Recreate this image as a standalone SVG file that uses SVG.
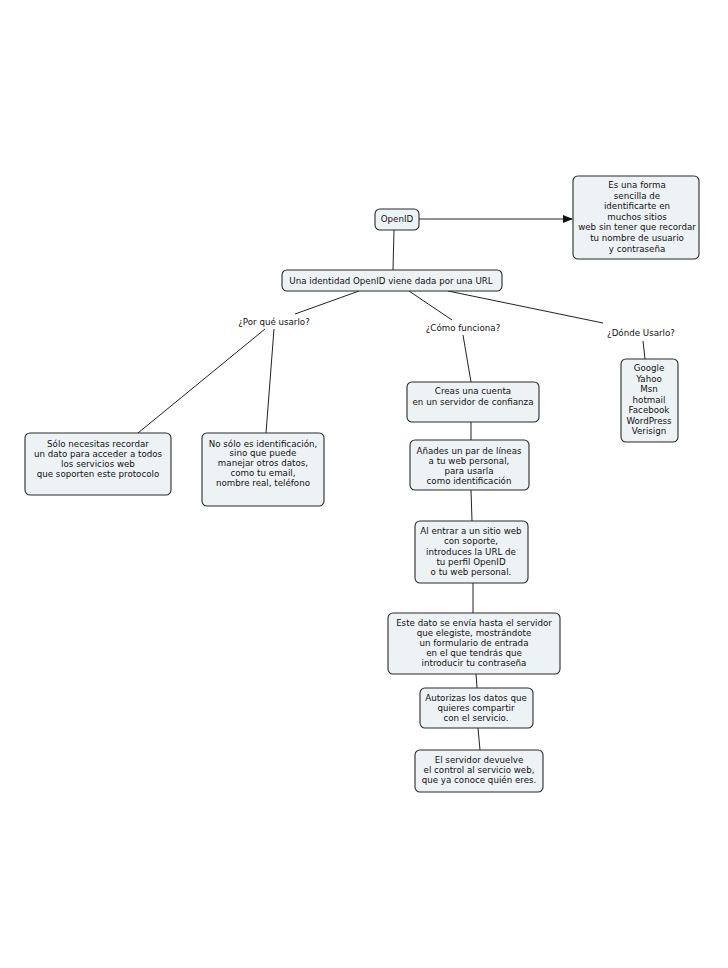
<svg xmlns="http://www.w3.org/2000/svg" width="728" height="968" viewBox="0 0 728 968">
<defs>
<style>
.box{fill:#edf3f5;stroke:#2a2a2a;stroke-width:1.1}
text{font-family:"DejaVu Sans","Verdana",sans-serif;font-size:8.7px;fill:#111;text-anchor:middle}
.c line{stroke:#222;stroke-width:1}
</style>
<marker id="arr" markerWidth="10" markerHeight="8" refX="9" refY="4" orient="auto" markerUnits="userSpaceOnUse">
<path d="M0,0 L10,4 L0,8 Z" fill="#111"/>
</marker>
</defs>
<rect width="728" height="968" fill="#fff"/>
<g class="c" id="connectors">
<line x1="419" y1="219" x2="572" y2="219" marker-end="url(#arr)"/>
<line x1="394" y1="230" x2="393" y2="270"/>
<line x1="359" y1="291" x2="295" y2="314"/>
<line x1="409" y1="291" x2="452" y2="320"/>
<line x1="448" y1="291" x2="603" y2="323"/>
<line x1="265" y1="329" x2="138" y2="433"/>
<line x1="274" y1="329" x2="266" y2="433"/>
<line x1="463" y1="335" x2="471" y2="382"/>
<line x1="643" y1="341" x2="645" y2="359"/>
<line x1="471" y1="422" x2="471" y2="440"/>
<line x1="471" y1="490" x2="472" y2="521"/>
<line x1="473" y1="583" x2="473" y2="613"/>
<line x1="476" y1="674" x2="477" y2="688"/>
<line x1="478" y1="728" x2="480" y2="750"/>
</g>
<g id="openid"><rect class="box" x="375" y="209" width="44" height="21" rx="5"/><text x="397" y="222">OpenID</text></g>
<g id="desc"><rect class="box" x="573" y="176" width="126" height="83" rx="5"/>
<text x="637" y="188">Es una forma</text>
<text x="637" y="199">sencilla de</text>
<text x="637" y="209">identificarte en</text>
<text x="637" y="220">muchos sitios</text>
<text x="637" y="230">web sin tener que recordar</text>
<text x="637" y="241">tu nombre de usuario</text>
<text x="637" y="252">y contraseña</text></g>
<g id="url"><rect class="box" x="282" y="270" width="220" height="21" rx="5"/><text x="391" y="284">Una identidad OpenID viene dada por una URL</text></g>
<g id="porque"><text x="274" y="325">¿Por qué usarlo?</text></g>
<g id="como"><text x="463" y="331">¿Cómo funciona?</text></g>
<g id="donde"><text x="641" y="336">¿Dónde Usarlo?</text></g>
<g id="solo"><rect class="box" x="25" y="433" width="146" height="62" rx="5"/>
<text x="98" y="447">Sólo necesitas recordar</text>
<text x="98" y="457">un dato para acceder a todos</text>
<text x="98" y="467">los servicios web</text>
<text x="98" y="477">que soporten este protocolo</text></g>
<g id="nosolo"><rect class="box" x="202" y="433" width="122" height="73" rx="5"/>
<text x="263" y="447">No sólo es identificación,</text>
<text x="263" y="456">sino que puede</text>
<text x="263" y="466">manejar otros datos,</text>
<text x="263" y="476">como tu email,</text>
<text x="263" y="486">nombre real, teléfono</text></g>
<g id="creas"><rect class="box" x="407" y="382" width="132" height="40" rx="5"/>
<text x="473" y="394">Creas una cuenta</text>
<text x="473" y="405">en un servidor de confianza</text></g>
<g id="anades"><rect class="box" x="410" y="440" width="119" height="50" rx="5"/>
<text x="469" y="454">Añades un par de líneas</text>
<text x="469" y="464">a tu web personal,</text>
<text x="469" y="474">para usarla</text>
<text x="469" y="484">como identificación</text></g>
<g id="google"><rect class="box" x="621" y="359" width="57" height="83" rx="5"/>
<text x="649" y="371">Google</text>
<text x="649" y="382">Yahoo</text>
<text x="649" y="392">Msn</text>
<text x="649" y="403">hotmail</text>
<text x="649" y="413">Facebook</text>
<text x="649" y="424">WordPress</text>
<text x="649" y="434">Verisign</text></g>
<g id="alentrar"><rect class="box" x="415" y="521" width="113" height="62" rx="5"/>
<text x="471" y="534">Al entrar a un sitio web</text>
<text x="471" y="544">con soporte,</text>
<text x="471" y="555">introduces la URL de</text>
<text x="471" y="565">tu perfil OpenID</text>
<text x="471" y="575">o tu web personal.</text></g>
<g id="este"><rect class="box" x="388" y="613" width="172" height="61" rx="5"/>
<text x="474" y="626">Este dato se envía hasta el servidor</text>
<text x="474" y="636">que elegiste, mostrándote</text>
<text x="474" y="646">un formulario de entrada</text>
<text x="474" y="656">en el que tendrás que</text>
<text x="474" y="666">introducir tu contraseña</text></g>
<g id="autorizas"><rect class="box" x="420" y="688" width="113" height="40" rx="5"/>
<text x="476" y="701">Autorizas los datos que</text>
<text x="476" y="711">quieres compartir</text>
<text x="476" y="721">con el servicio.</text></g>
<g id="servidor"><rect class="box" x="415" y="750" width="128" height="42" rx="5"/>
<text x="479" y="763">El servidor devuelve</text>
<text x="479" y="773">el control al servicio web,</text>
<text x="479" y="783">que ya conoce quién eres.</text></g>
</svg>
